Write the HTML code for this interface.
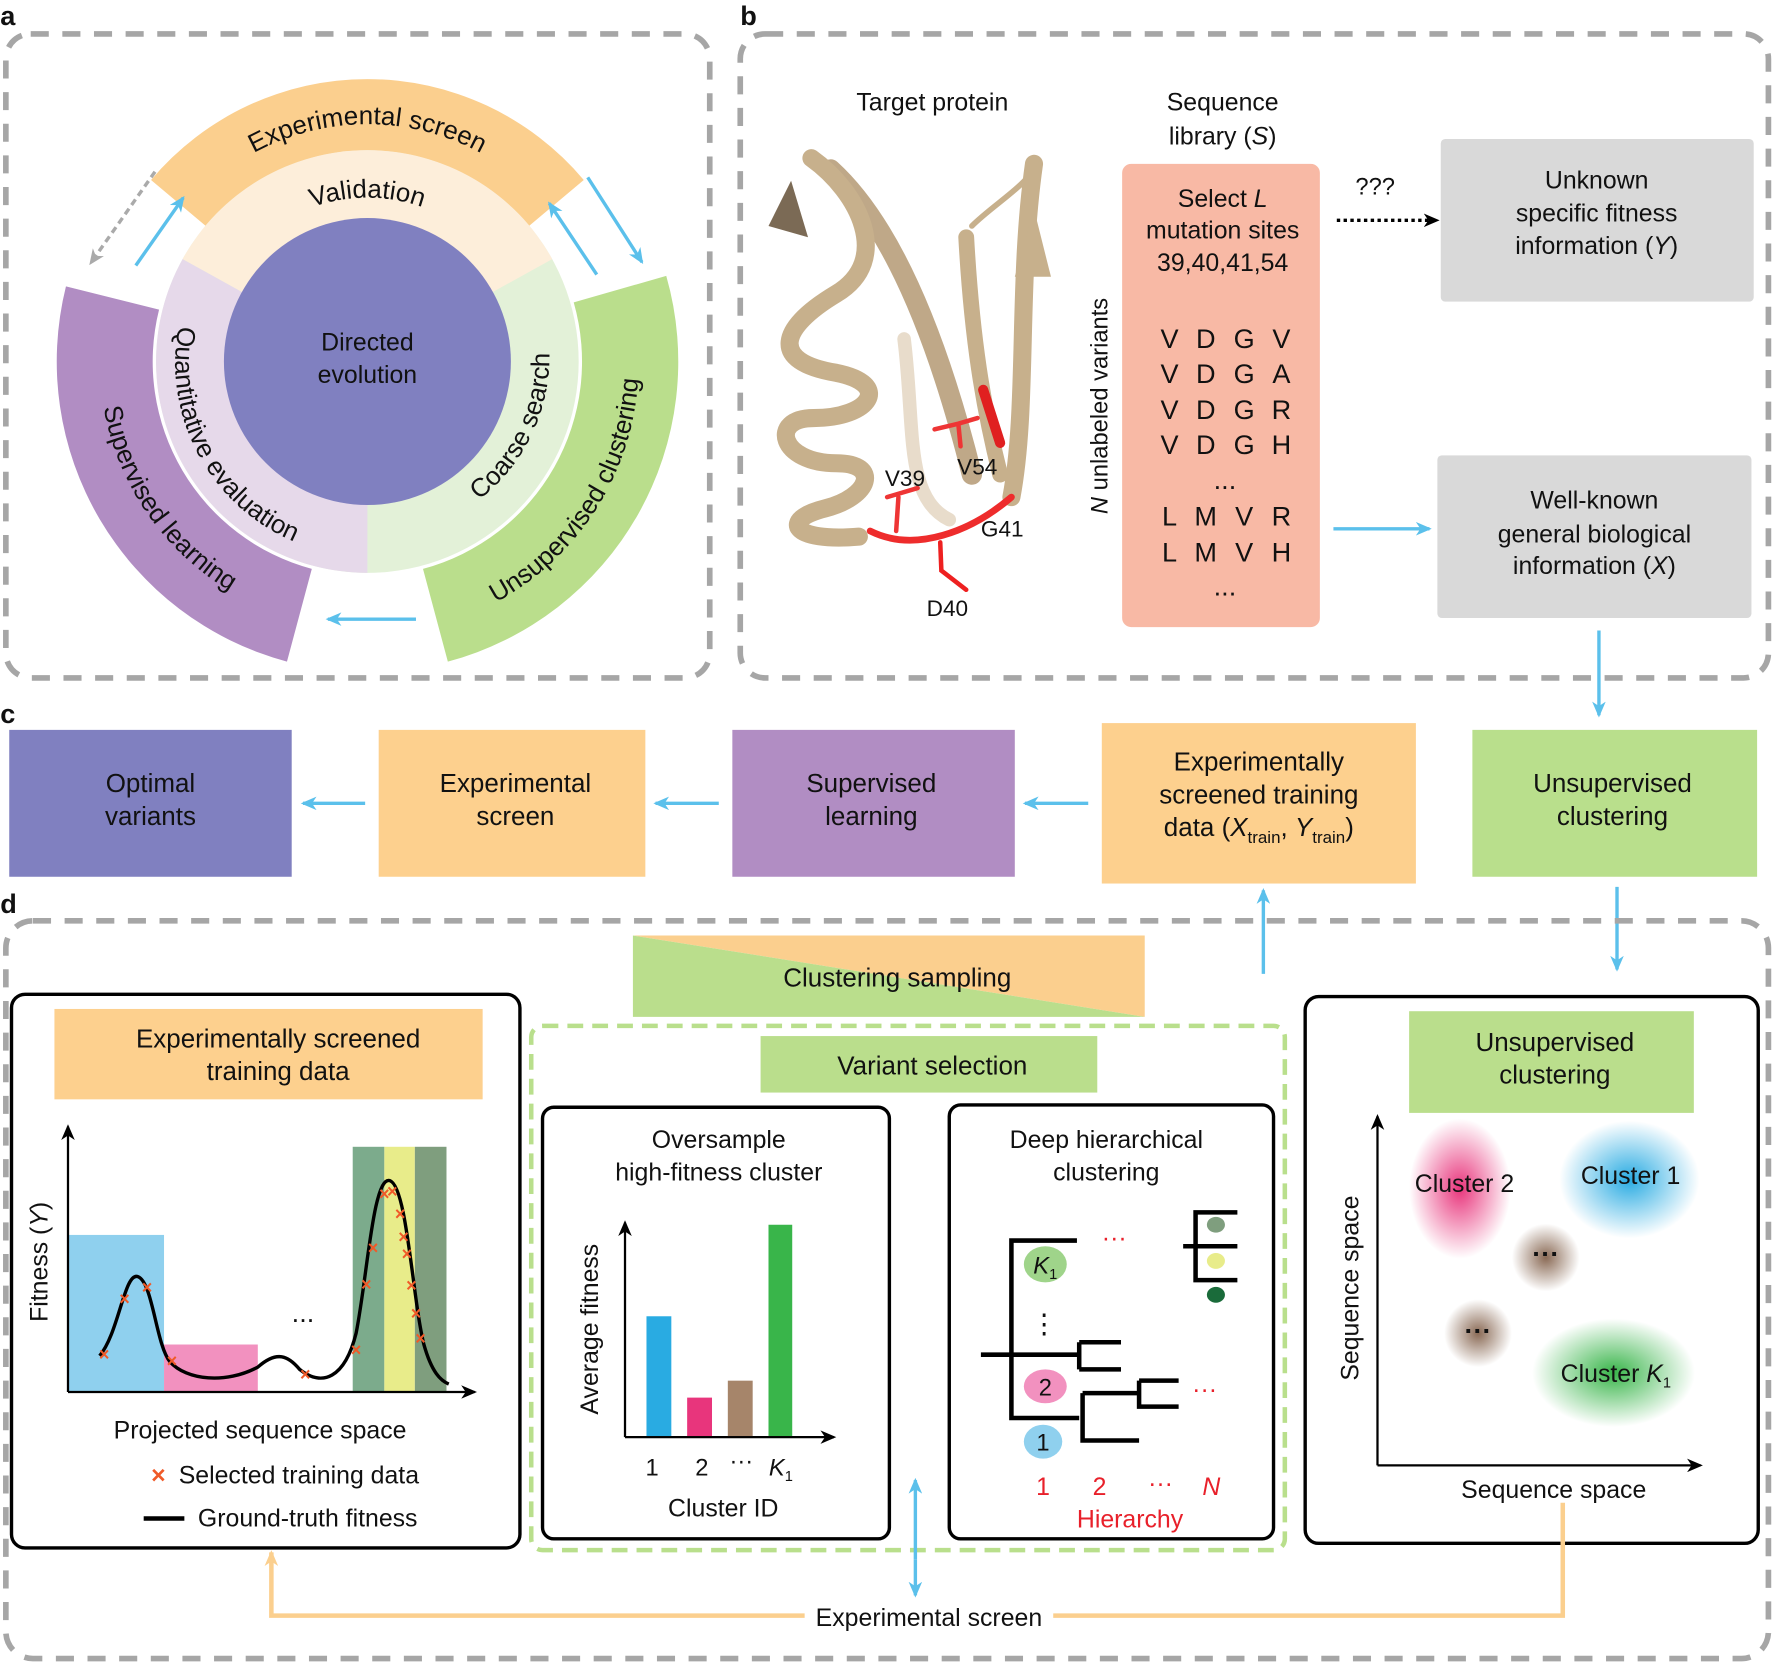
<!DOCTYPE html>
<html><head><meta charset="utf-8"><style>
html,body{margin:0;padding:0;background:#fff}
svg{display:block}
text{font-family:"Liberation Sans",sans-serif}
.k{fill:#111}
.x{fill:#f05a28}
.r{fill:#e8202a}
</style></head><body>
<svg width="1772" height="1662" viewBox="0 0 1568 1471" xmlns="http://www.w3.org/2000/svg">
<defs>
<marker id="abig" markerWidth="14" markerHeight="12" refX="12" refY="6" orient="auto" markerUnits="userSpaceOnUse"><path d="M0,0 L14,6 L0,12 L4,6 Z" fill="#5bc0eb"/></marker>
<marker id="ag" markerWidth="14" markerHeight="12" refX="12" refY="6" orient="auto" markerUnits="userSpaceOnUse"><path d="M0,0 L14,6 L0,12 L4,6 Z" fill="#aaa"/></marker>
<marker id="ak" markerWidth="14" markerHeight="12" refX="12" refY="6" orient="auto" markerUnits="userSpaceOnUse"><path d="M0,0 L14,6 L0,12 L4,6 Z" fill="#000"/></marker>
<marker id="ao" markerWidth="14" markerHeight="12" refX="12" refY="6" orient="auto" markerUnits="userSpaceOnUse"><path d="M0,0 L14,6 L0,12 L4,6 Z" fill="#fbcf8e"/></marker>
<radialGradient id="gp"><stop offset="0" stop-color="#e8357c"/><stop offset="1" stop-color="#e8357c" stop-opacity="0"/></radialGradient>
<radialGradient id="gb"><stop offset="0" stop-color="#29abe2"/><stop offset="1" stop-color="#29abe2" stop-opacity="0"/></radialGradient>
<radialGradient id="gg"><stop offset="0" stop-color="#39b54a"/><stop offset="1" stop-color="#39b54a" stop-opacity="0"/></radialGradient>
<radialGradient id="gn"><stop offset="0" stop-color="#8a6a55"/><stop offset="1" stop-color="#8a6a55" stop-opacity="0"/></radialGradient>
<path id="pOrange" d="M 164.1,185 A 210 210 0 0 1 485.9,185"/>
<path id="pVal" d="M 199.4,247.5 A 145 145 0 0 1 450.6,247.5"/>
<path id="pSup" d="M 88,320 A 237 237 0 0 0 240,541"/>
<path id="pUns" d="M 425,540 A 240 240 0 0 0 565,320"/>
<path id="pQuant" d="M 175,240 A 172 172 0 0 0 310,492"/>
<path id="pCoarse" d="M 405,455 A 160 160 0 0 0 484,290"/>
</defs>
<g class="k">
<text x="0" y="22" font-size="24" font-weight="bold">a</text>
<text x="655" y="22" font-size="24" font-weight="bold">b</text>
<text x="0" y="640" font-size="24" font-weight="bold">c</text>
<text x="0" y="808" font-size="24" font-weight="bold">d</text>
</g>

<!-- Panel a -->
<rect x="5" y="30" width="623" height="570" rx="22" fill="none" stroke="#a6a6a6" stroke-width="5" stroke-dasharray="16,12"/>
<g transform="translate(325,320)">
<path d="M -191.5,-160.7 A 250 250 0 0 1 191.5,-160.7 L 141.7,-118.9 A 185 185 0 0 0 -141.7,-118.9 Z" fill="#fbcf8e"/>
<path d="M 264.5,-75.8 A 275 275 0 0 1 71.2,265.6 L 49.2,183.5 A 190 190 0 0 0 182.6,-52.4 Z" fill="#bade8c"/>
<path d="M -71.2,265.6 A 275 275 0 0 1 -266.8,-66.5 L -184.4,-46.0 A 190 190 0 0 0 -49.2,183.5 Z" fill="#b18dc3"/>
<circle r="187" fill="#e3f1d8"/>
<path d="M 0,0 L -163.6,-90.7 A 187 187 0 0 1 163.6,-90.7 Z" fill="#fdeeda"/>
<path d="M 0,0 L 0,187 A 187 187 0 0 1 -163.6,-90.7 Z" fill="#e6d9ea"/>
<circle r="127" fill="#8080c0"/>
</g>
<g class="k">
<text x="325" y="310" font-size="22" text-anchor="middle">Directed</text>
<text x="325" y="339" font-size="22" text-anchor="middle">evolution</text>
<text font-size="23"><textPath href="#pOrange" startOffset="50%" text-anchor="middle">Experimental screen</textPath></text>
<text font-size="23"><textPath href="#pVal" startOffset="50%" text-anchor="middle">Validation</textPath></text>
<text font-size="23"><textPath href="#pSup" startOffset="50%" text-anchor="middle">Supervised learning</textPath></text>
<text font-size="23"><textPath href="#pUns" startOffset="50%" text-anchor="middle">Unsupervised clustering</textPath></text>
<text font-size="23"><textPath href="#pQuant" startOffset="50%" text-anchor="middle">Quantitative evaluation</textPath></text>
<text font-size="23"><textPath href="#pCoarse" startOffset="50%" text-anchor="middle">Coarse search</textPath></text>
</g>
<line x1="120" y1="235" x2="162" y2="175" stroke="#5bc0eb" stroke-width="3" marker-end="url(#abig)"/>
<line x1="137" y1="152" x2="80" y2="233" stroke="#aaa" stroke-width="3" stroke-dasharray="6,4" marker-end="url(#ag)"/>
<line x1="528" y1="243" x2="486" y2="180" stroke="#5bc0eb" stroke-width="3" marker-end="url(#abig)"/>
<line x1="520" y1="157" x2="568" y2="232" stroke="#5bc0eb" stroke-width="3" marker-end="url(#abig)"/>
<line x1="368" y1="548" x2="290" y2="548" stroke="#5bc0eb" stroke-width="3" marker-end="url(#abig)"/>

<!-- Panel b -->
<rect x="655" y="30" width="910" height="570" rx="22" fill="none" stroke="#a6a6a6" stroke-width="5" stroke-dasharray="16,12"/>
<g class="k">
<text x="825" y="98" font-size="22" text-anchor="middle">Target protein</text>
<text x="1082" y="98" font-size="22" text-anchor="middle">Sequence</text>
<text x="1082" y="128" font-size="22" text-anchor="middle">library (<tspan font-style="italic">S</tspan>)</text>
</g>
<g fill="none" stroke-linecap="round">
<path d="M 800,300 C 810,380 800,440 840,460" stroke="#e8dccb" stroke-width="12"/>
<path d="M 735,150 C 790,200 830,300 860,420" stroke="#bfa888" stroke-width="18"/>
<path d="M 718,140 C 760,170 790,230 740,260 C 690,290 680,320 740,330 C 790,340 770,370 720,370 C 680,370 690,410 740,410 C 780,410 770,440 730,450 C 690,460 700,480 760,475" stroke="#c7b08c" stroke-width="16"/>
<path d="M 855,210 C 860,300 870,360 885,420" stroke="#c7b08c" stroke-width="14"/>
<path d="M 915,145 C 900,250 910,360 895,440" stroke="#c7b08c" stroke-width="16"/>
<path d="M 860,200 C 880,180 915,160 915,145" stroke="#c7b08c" stroke-width="5"/>
<path d="M 680,200 L 700,160 L 715,210 Z" fill="#7b6a55" stroke="none"/>
<path d="M 898,245 L 915,185 L 930,245 Z" fill="#c7b08c" stroke="none"/>
<path d="M 770,470 C 810,490 860,470 895,440" stroke="#ee2c2c" stroke-width="6"/>
<path d="M 870,345 L 885,392" stroke="#e02020" stroke-width="9"/>
<path d="M 793,470 L 795,440 M 785,440 L 812,432" stroke="#ee3535" stroke-width="4"/>
<path d="M 832,480 L 833,505 L 855,522" stroke="#ee2020" stroke-width="4"/>
<path d="M 827,380 L 848,375 L 865,370 M 848,375 L 850,395" stroke="#ee3535" stroke-width="4"/>
</g>
<g class="k">
<text x="783" y="430" font-size="20">V39</text>
<text x="847" y="420" font-size="20">V54</text>
<text x="868" y="475" font-size="20">G41</text>
<text x="820" y="545" font-size="20">D40</text>
<text transform="translate(980,455) rotate(-90)" font-size="21"><tspan font-style="italic">N</tspan> unlabeled variants</text>
</g>
<rect x="993" y="145" width="175" height="410" rx="8" fill="#f8b9a5"/>
<g font-size="22" text-anchor="middle" class="k">
<text x="1082" y="183">Select <tspan font-style="italic">L</tspan></text>
<text x="1082" y="211">mutation sites</text>
<text x="1082" y="240">39,40,41,54</text>
</g>
<g font-size="24" text-anchor="middle" class="k">
<text y="308"><tspan x="1035">V</tspan><tspan x="1067">D</tspan><tspan x="1101">G</tspan><tspan x="1134">V</tspan></text>
<text y="339"><tspan x="1035">V</tspan><tspan x="1067">D</tspan><tspan x="1101">G</tspan><tspan x="1134">A</tspan></text>
<text y="371"><tspan x="1035">V</tspan><tspan x="1067">D</tspan><tspan x="1101">G</tspan><tspan x="1134">R</tspan></text>
<text y="402"><tspan x="1035">V</tspan><tspan x="1067">D</tspan><tspan x="1101">G</tspan><tspan x="1134">H</tspan></text>
<text x="1084" y="433">...</text>
<text y="465"><tspan x="1035">L</tspan><tspan x="1067">M</tspan><tspan x="1101">V</tspan><tspan x="1134">R</tspan></text>
<text y="497"><tspan x="1035">L</tspan><tspan x="1067">M</tspan><tspan x="1101">V</tspan><tspan x="1134">H</tspan></text>
<text x="1084" y="527">...</text>
</g>
<text x="1217" y="172" font-size="21" text-anchor="middle" class="k">???</text>
<line x1="1183" y1="195" x2="1272" y2="195" stroke="#000" stroke-width="3" stroke-dasharray="3,3" marker-end="url(#ak)"/>
<rect x="1275" y="123" width="277" height="144" rx="4" fill="#d9d9d9"/>
<g font-size="22" text-anchor="middle" class="k">
<text x="1413" y="167">Unknown</text>
<text x="1413" y="196">specific fitness</text>
<text x="1413" y="225">information (<tspan font-style="italic">Y</tspan>)</text>
</g>
<line x1="1180" y1="468" x2="1265" y2="468" stroke="#5bc0eb" stroke-width="3" marker-end="url(#abig)"/>
<rect x="1272" y="403" width="278" height="144" rx="4" fill="#d9d9d9"/>
<g font-size="22" text-anchor="middle" class="k">
<text x="1411" y="450">Well-known</text>
<text x="1411" y="480">general biological</text>
<text x="1411" y="508">information (<tspan font-style="italic">X</tspan>)</text>
</g>
<line x1="1415" y1="558" x2="1415" y2="633" stroke="#5bc0eb" stroke-width="3" marker-end="url(#abig)"/>

<!-- Panel c -->
<rect x="8" y="646" width="250" height="130" fill="#8080c0"/>
<rect x="335" y="646" width="236" height="130" fill="#fdd08e"/>
<rect x="648" y="646" width="250" height="130" fill="#b18dc3"/>
<rect x="975" y="640" width="278" height="142" fill="#fdd08e"/>
<rect x="1303" y="646" width="252" height="130" fill="#b9df8c"/>
<g font-size="23" text-anchor="middle" class="k">
<text x="133" y="701">Optimal</text><text x="133" y="730">variants</text>
<text x="456" y="701">Experimental</text><text x="456" y="730">screen</text>
<text x="771" y="701">Supervised</text><text x="771" y="730">learning</text>
<text x="1114" y="682">Experimentally</text><text x="1114" y="711">screened training</text>
<text x="1114" y="740">data (<tspan font-style="italic">X</tspan><tspan font-size="15" dy="6">train</tspan><tspan dy="-6">, </tspan><tspan font-style="italic">Y</tspan><tspan font-size="15" dy="6">train</tspan><tspan dy="-6">)</tspan></text>
<text x="1427" y="701">Unsupervised</text><text x="1427" y="730">clustering</text>
</g>
<g stroke="#5bc0eb" stroke-width="3">
<line x1="323" y1="711" x2="268" y2="711" marker-end="url(#abig)"/>
<line x1="636" y1="711" x2="580" y2="711" marker-end="url(#abig)"/>
<line x1="963" y1="711" x2="907" y2="711" marker-end="url(#abig)"/>
<line x1="1118" y1="862" x2="1118" y2="788" marker-end="url(#abig)"/>
<line x1="1431" y1="785" x2="1431" y2="858" marker-end="url(#abig)"/>
</g>

<!-- Panel d -->
<rect x="5" y="815" width="1560" height="653" rx="24" fill="none" stroke="#a6a6a6" stroke-width="5" stroke-dasharray="16,12"/>
<path d="M 560,828 L 1013,828 L 1013,900 Z" fill="#fbcf8e"/>
<path d="M 560,828 L 1013,900 L 560,900 Z" fill="#bade8c"/>
<text x="794" y="873" font-size="23" text-anchor="middle" class="k">Clustering sampling</text>

<rect x="10" y="880" width="450" height="490" rx="12" fill="#fff" stroke="#000" stroke-width="3"/>
<rect x="48" y="893" width="379" height="80" fill="#fdd08e"/>
<text x="246" y="927" font-size="23" text-anchor="middle" class="k">Experimentally screened</text>
<text x="246" y="956" font-size="23" text-anchor="middle" class="k">training data</text>
<rect x="60" y="1093" width="85" height="139" fill="#8fd0ee"/>
<rect x="145" y="1190" width="83" height="42" fill="#f291bf"/>
<rect x="312" y="1015" width="28" height="217" fill="#7cab8c"/>
<rect x="340" y="1015" width="27" height="217" fill="#e8ec8a"/>
<rect x="367" y="1015" width="28" height="217" fill="#7f9e7e"/>
<line x1="60" y1="1232" x2="60" y2="997" stroke="#000" stroke-width="2" marker-end="url(#ak)"/>
<line x1="60" y1="1232" x2="420" y2="1232" stroke="#000" stroke-width="2" marker-end="url(#ak)"/>
<path d="M 88,1200 C 105,1180 110,1125 122,1130 C 135,1135 138,1190 150,1205 C 165,1222 200,1225 228,1210 C 245,1195 255,1200 265,1212 C 285,1228 305,1220 315,1180 C 325,1130 330,1040 345,1045 C 360,1050 365,1150 375,1190 C 382,1215 390,1222 397,1225" fill="none" stroke="#000" stroke-width="3"/>
<g font-size="16" font-weight="bold" text-anchor="middle" class="x">
<text x="92" y="1204">×</text><text x="110" y="1155">×</text><text x="130" y="1145">×</text><text x="152" y="1210">×</text><text x="270" y="1222">×</text>
<text x="315" y="1200">×</text><text x="324" y="1142">×</text><text x="330" y="1110">×</text><text x="340" y="1062">×</text><text x="347" y="1060">×</text><text x="354" y="1080">×</text><text x="357" y="1100">×</text><text x="360" y="1115">×</text><text x="364" y="1143">×</text><text x="368" y="1168">×</text><text x="372" y="1190">×</text>
</g>
<g class="k">
<text x="268" y="1170" font-size="24" text-anchor="middle">...</text>
<text transform="translate(42,1170) rotate(-90)" font-size="22">Fitness (<tspan font-style="italic">Y</tspan>)</text>
<text x="230" y="1273" font-size="22" text-anchor="middle">Projected sequence space</text>
<text x="158" y="1313" font-size="22">Selected training data</text>
<text x="175" y="1351" font-size="22">Ground-truth fitness</text>
</g>
<text x="140" y="1313" font-size="22" font-weight="bold" text-anchor="middle" class="x">×</text>
<line x1="127" y1="1344" x2="163" y2="1344" stroke="#000" stroke-width="4"/>

<rect x="470" y="908" width="667" height="464" rx="10" fill="none" stroke="#b9df8c" stroke-width="4" stroke-dasharray="14,8"/>
<rect x="673" y="917" width="298" height="50" fill="#bade8c"/>
<text x="825" y="951" font-size="23" text-anchor="middle" class="k">Variant selection</text>

<rect x="480" y="980" width="307" height="382" rx="10" fill="#fff" stroke="#000" stroke-width="3"/>
<text x="636" y="1016" font-size="22" text-anchor="middle" class="k">Oversample</text>
<text x="636" y="1045" font-size="22" text-anchor="middle" class="k">high-fitness cluster</text>
<line x1="553" y1="1272" x2="553" y2="1082" stroke="#000" stroke-width="2" marker-end="url(#ak)"/>
<line x1="553" y1="1272" x2="738" y2="1272" stroke="#000" stroke-width="2" marker-end="url(#ak)"/>
<rect x="572" y="1165" width="22" height="106" fill="#29abe2"/>
<rect x="608" y="1237" width="22" height="34" fill="#e8357c"/>
<rect x="644" y="1222" width="22" height="49" fill="#a6856a"/>
<rect x="680" y="1084" width="21" height="187" fill="#39b54a"/>
<g class="k">
<text transform="translate(529,1252) rotate(-90)" font-size="22">Average fitness</text>
<g font-size="21" text-anchor="middle"><text x="577" y="1306">1</text><text x="621" y="1306">2</text><text x="656" y="1300">···</text><text x="691" y="1306" font-style="italic">K<tspan font-size="13" dy="5" font-style="normal">1</tspan></text></g>
<text x="640" y="1342" font-size="22" text-anchor="middle">Cluster ID</text>
</g>

<rect x="840" y="978" width="287" height="384" rx="10" fill="#fff" stroke="#000" stroke-width="3"/>
<text x="979" y="1016" font-size="22" text-anchor="middle" class="k">Deep hierarchical</text>
<text x="979" y="1045" font-size="22" text-anchor="middle" class="k">clustering</text>
<g stroke="#000" stroke-width="4" fill="none">
<path d="M 953,1098 L 895,1098 L 895,1255 L 955,1255"/>
<path d="M 868,1199 L 955,1199"/>
<path d="M 955,1188 L 955,1212 M 955,1188 L 992,1188 M 955,1212 L 992,1212"/>
<path d="M 958,1233 L 958,1275 L 1008,1275 M 958,1233 L 1008,1233 M 1008,1222 L 1008,1245 L 1043,1245 M 1008,1222 L 1043,1222"/>
<path d="M 1095,1073 L 1058,1073 L 1058,1133 L 1095,1133 M 1047,1103 L 1095,1103"/>
</g>
<ellipse cx="925" cy="1119" rx="19" ry="16" fill="#9fd48a"/>
<ellipse cx="925" cy="1227" rx="19" ry="15" fill="#f291bf"/>
<ellipse cx="923" cy="1276" rx="17" ry="15" fill="#8fd0ee"/>
<ellipse cx="1076" cy="1084" rx="8" ry="7" fill="#7f9e7e"/>
<ellipse cx="1076" cy="1116" rx="8" ry="7" fill="#e8ec8a"/>
<ellipse cx="1076" cy="1146" rx="8" ry="7" fill="#1a6b3a"/>
<g class="k">
<text x="925" y="1127" font-size="21" text-anchor="middle" font-style="italic">K<tspan font-size="13" dy="5" font-style="normal">1</tspan></text>
<text x="924" y="1180" font-size="24" text-anchor="middle">⋮</text>
<text x="925" y="1235" font-size="21" text-anchor="middle">2</text>
<text x="923" y="1284" font-size="21" text-anchor="middle">1</text>
</g>
<g font-size="22" text-anchor="middle" class="r">
<text x="986" y="1103">···</text>
<text x="1066" y="1237">···</text>
<text x="923" y="1323">1</text><text x="973" y="1323">2</text><text x="1027" y="1320">···</text><text x="1072" y="1323" font-style="italic">N</text>
<text x="1000" y="1352">Hierarchy</text>
</g>

<rect x="1155" y="882" width="401" height="484" rx="12" fill="#fff" stroke="#000" stroke-width="3"/>
<rect x="1247" y="895" width="252" height="90" fill="#bade8c"/>
<text x="1376" y="930" font-size="23" text-anchor="middle" class="k">Unsupervised</text>
<text x="1376" y="959" font-size="23" text-anchor="middle" class="k">clustering</text>
<line x1="1219" y1="1297" x2="1219" y2="988" stroke="#000" stroke-width="2" marker-end="url(#ak)"/>
<line x1="1219" y1="1297" x2="1505" y2="1297" stroke="#000" stroke-width="2" marker-end="url(#ak)"/>
<ellipse cx="1292" cy="1052" rx="45" ry="62" fill="url(#gp)"/>
<ellipse cx="1442" cy="1044" rx="62" ry="52" fill="url(#gb)"/>
<ellipse cx="1428" cy="1215" rx="72" ry="48" fill="url(#gg)"/>
<ellipse cx="1368" cy="1113" rx="30" ry="30" fill="url(#gn)"/>
<ellipse cx="1308" cy="1180" rx="30" ry="30" fill="url(#gn)"/>
<g class="k">
<text x="1296" y="1055" font-size="22" text-anchor="middle">Cluster 2</text>
<text x="1443" y="1048" font-size="22" text-anchor="middle">Cluster 1</text>
<text x="1430" y="1223" font-size="22" text-anchor="middle">Cluster <tspan font-style="italic">K</tspan><tspan font-size="13" dy="5">1</tspan></text>
<text x="1368" y="1118" font-size="24" font-weight="bold" text-anchor="middle">···</text>
<text x="1308" y="1186" font-size="24" font-weight="bold" text-anchor="middle">···</text>
<text transform="translate(1202,1222) rotate(-90)" font-size="22">Sequence space</text>
<text x="1375" y="1326" font-size="22" text-anchor="middle">Sequence space</text>
</g>

<path d="M 1383,1330 L 1383,1430 L 240,1430 L 240,1374" fill="none" stroke="#fbcf8e" stroke-width="4" marker-end="url(#ao)"/>
<line x1="810" y1="1380" x2="810" y2="1310" stroke="#5bc0eb" stroke-width="3" marker-end="url(#abig)"/>
<line x1="810" y1="1380" x2="810" y2="1412" stroke="#5bc0eb" stroke-width="3" marker-end="url(#abig)"/>
<rect x="712" y="1418" width="220" height="26" fill="#fff"/>
<text x="822" y="1439" font-size="22" text-anchor="middle" class="k">Experimental screen</text>
</svg>
</body></html>
